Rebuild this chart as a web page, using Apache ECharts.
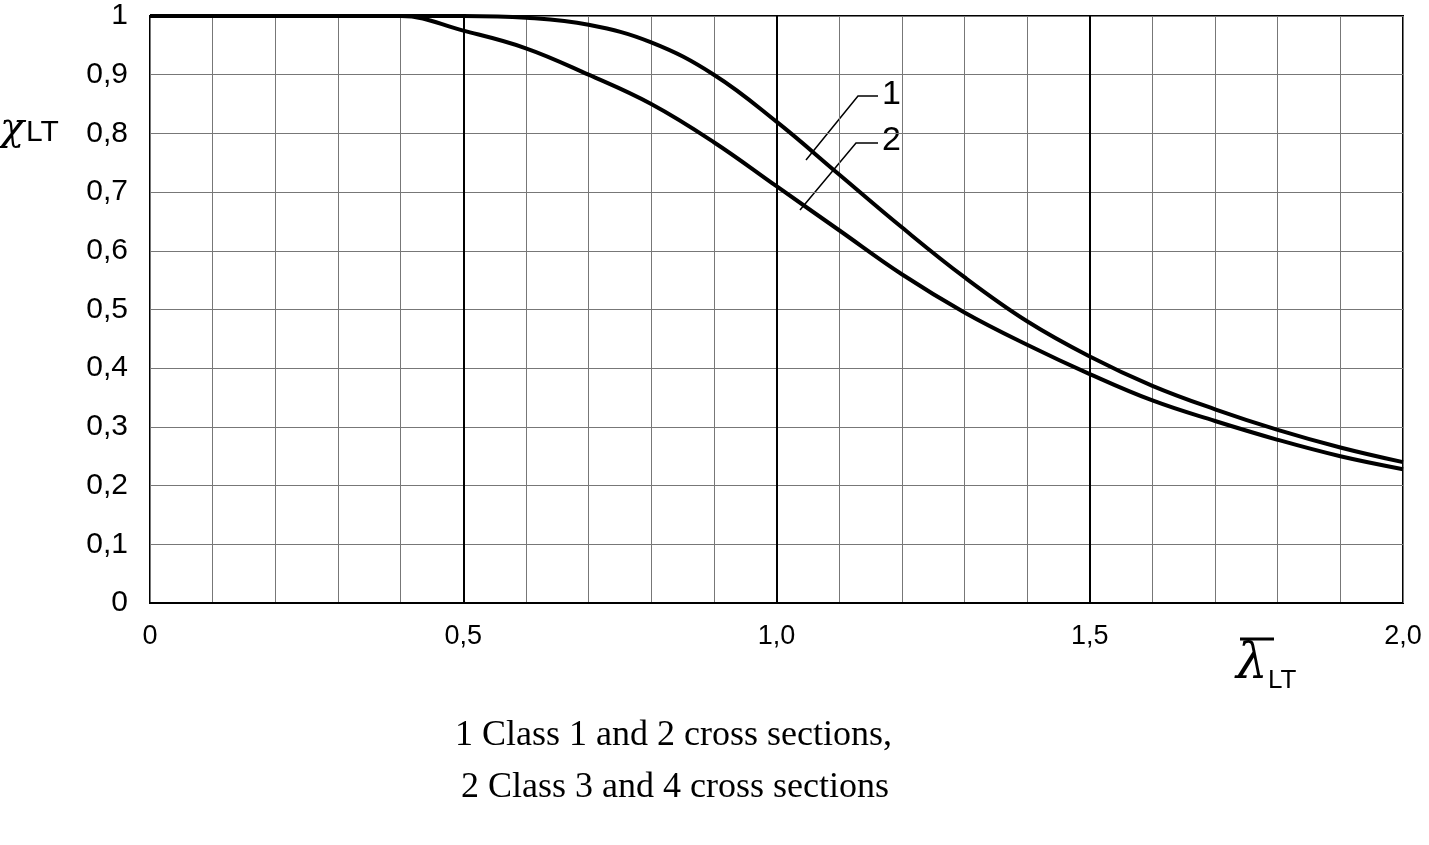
<!DOCTYPE html>
<html><head><meta charset="utf-8">
<script src="https://cdn.jsdelivr.net/npm/echarts@6/dist/echarts.min.js"></script>
<style>html,body{margin:0;background:#fff}#c{width:1429px;height:845px}</style>
</head><body><div id="c"></div>
<script>
const lambda = [0,0.1,0.2,0.3,0.4,0.5,0.6,0.7,0.8,0.9,1.0,1.1,1.2,1.3,1.4,1.5,1.6,1.7,1.8,1.9,2.0];
const curve1 = [1,1,1,1,1,1,0.997,0.985,0.955,0.9,0.82,0.73,0.64,0.555,0.48,0.42,0.37,0.33,0.295,0.265,0.24];
const curve2 = [1,1,1,1,1,0.975,0.945,0.9,0.85,0.785,0.71,0.635,0.56,0.495,0.44,0.39,0.345,0.31,0.278,0.25,0.228];
const xTicks = {0:'0',0.5:'0,5',1:'1,0',1.5:'1,5',2:'2,0'};
const majorX = [0.5,1.0,1.5];
const c = echarts.init(document.getElementById('c'));
const pair = a => lambda.map((x,i)=>[x,a[i]]);
c.setOption({
  animation:false,
  grid:{left:150,right:26,top:16,bottom:242,show:true,borderColor:'#000',borderWidth:2},
  xAxis:{type:'value',min:0,max:2,interval:0.1,
    axisLine:{show:false},axisTick:{show:false},
    splitLine:{lineStyle:{color:'#777',width:1}},
    axisLabel:{margin:20,fontSize:27,fontFamily:'Liberation Sans',color:'#000',
      formatter:v=>{const k=Math.round(v*10)/10;return xTicks[k]!==undefined?xTicks[k]:'';}}},
  yAxis:{type:'value',min:0,max:1,interval:0.1,
    axisLine:{show:false},axisTick:{show:false},
    splitLine:{lineStyle:{color:'#777',width:1}},
    axisLabel:{margin:22,fontSize:30,fontFamily:'Liberation Sans',color:'#000',
      formatter:v=>v===0?'0':v===1?'1':v.toFixed(1).replace('.',',')}},
  series:[
    {type:'line',data:pair(curve1),smooth:0.4,symbol:'none',lineStyle:{color:'#000',width:4},
      markLine:{silent:true,symbol:'none',label:{show:false},lineStyle:{color:'#000',width:2,type:'solid'},
        data:majorX.map(x=>({xAxis:x})).concat([{yAxis:0}])}},
    {type:'line',data:pair(curve2),smooth:0.4,symbol:'none',lineStyle:{color:'#000',width:4}}
  ],
  graphic:[
    {type:'text',left:0,top:110,style:{text:'χ',font:'italic 40px "DejaVu Serif"',fill:'#000'}},
    {type:'text',left:26,top:118,style:{text:'LT',font:'30px "Liberation Sans"',fill:'#000'}},
    {type:'text',left:1236,top:640,style:{text:'λ',font:'italic 50px "DejaVu Serif"',fill:'#000'}},
    {type:'line',shape:{x1:1240,y1:639,x2:1274,y2:639},style:{stroke:'#000',lineWidth:3}},
    {type:'text',left:1268,top:668,style:{text:'LT',font:'26px "Liberation Sans"',fill:'#000'}},
    {type:'text',left:882,top:78,style:{text:'1',font:'34px "Liberation Sans"',fill:'#000'}},
    {type:'text',left:882,top:124,style:{text:'2',font:'34px "Liberation Sans"',fill:'#000'}},
    {type:'polyline',shape:{points:[[878,96],[858,96],[806,160]]},style:{stroke:'#000',lineWidth:1.5,fill:null}},
    {type:'polyline',shape:{points:[[878,143],[856,143],[800,210]]},style:{stroke:'#000',lineWidth:1.5,fill:null}},
    {type:'text',left:455,top:718,style:{text:'1 Class 1 and 2 cross sections,',font:'36px "Liberation Serif"',fill:'#000'}},
    {type:'text',left:461,top:770,style:{text:'2 Class 3 and 4 cross sections',font:'36px "Liberation Serif"',fill:'#000'}}
  ]
});
</script></body></html>
